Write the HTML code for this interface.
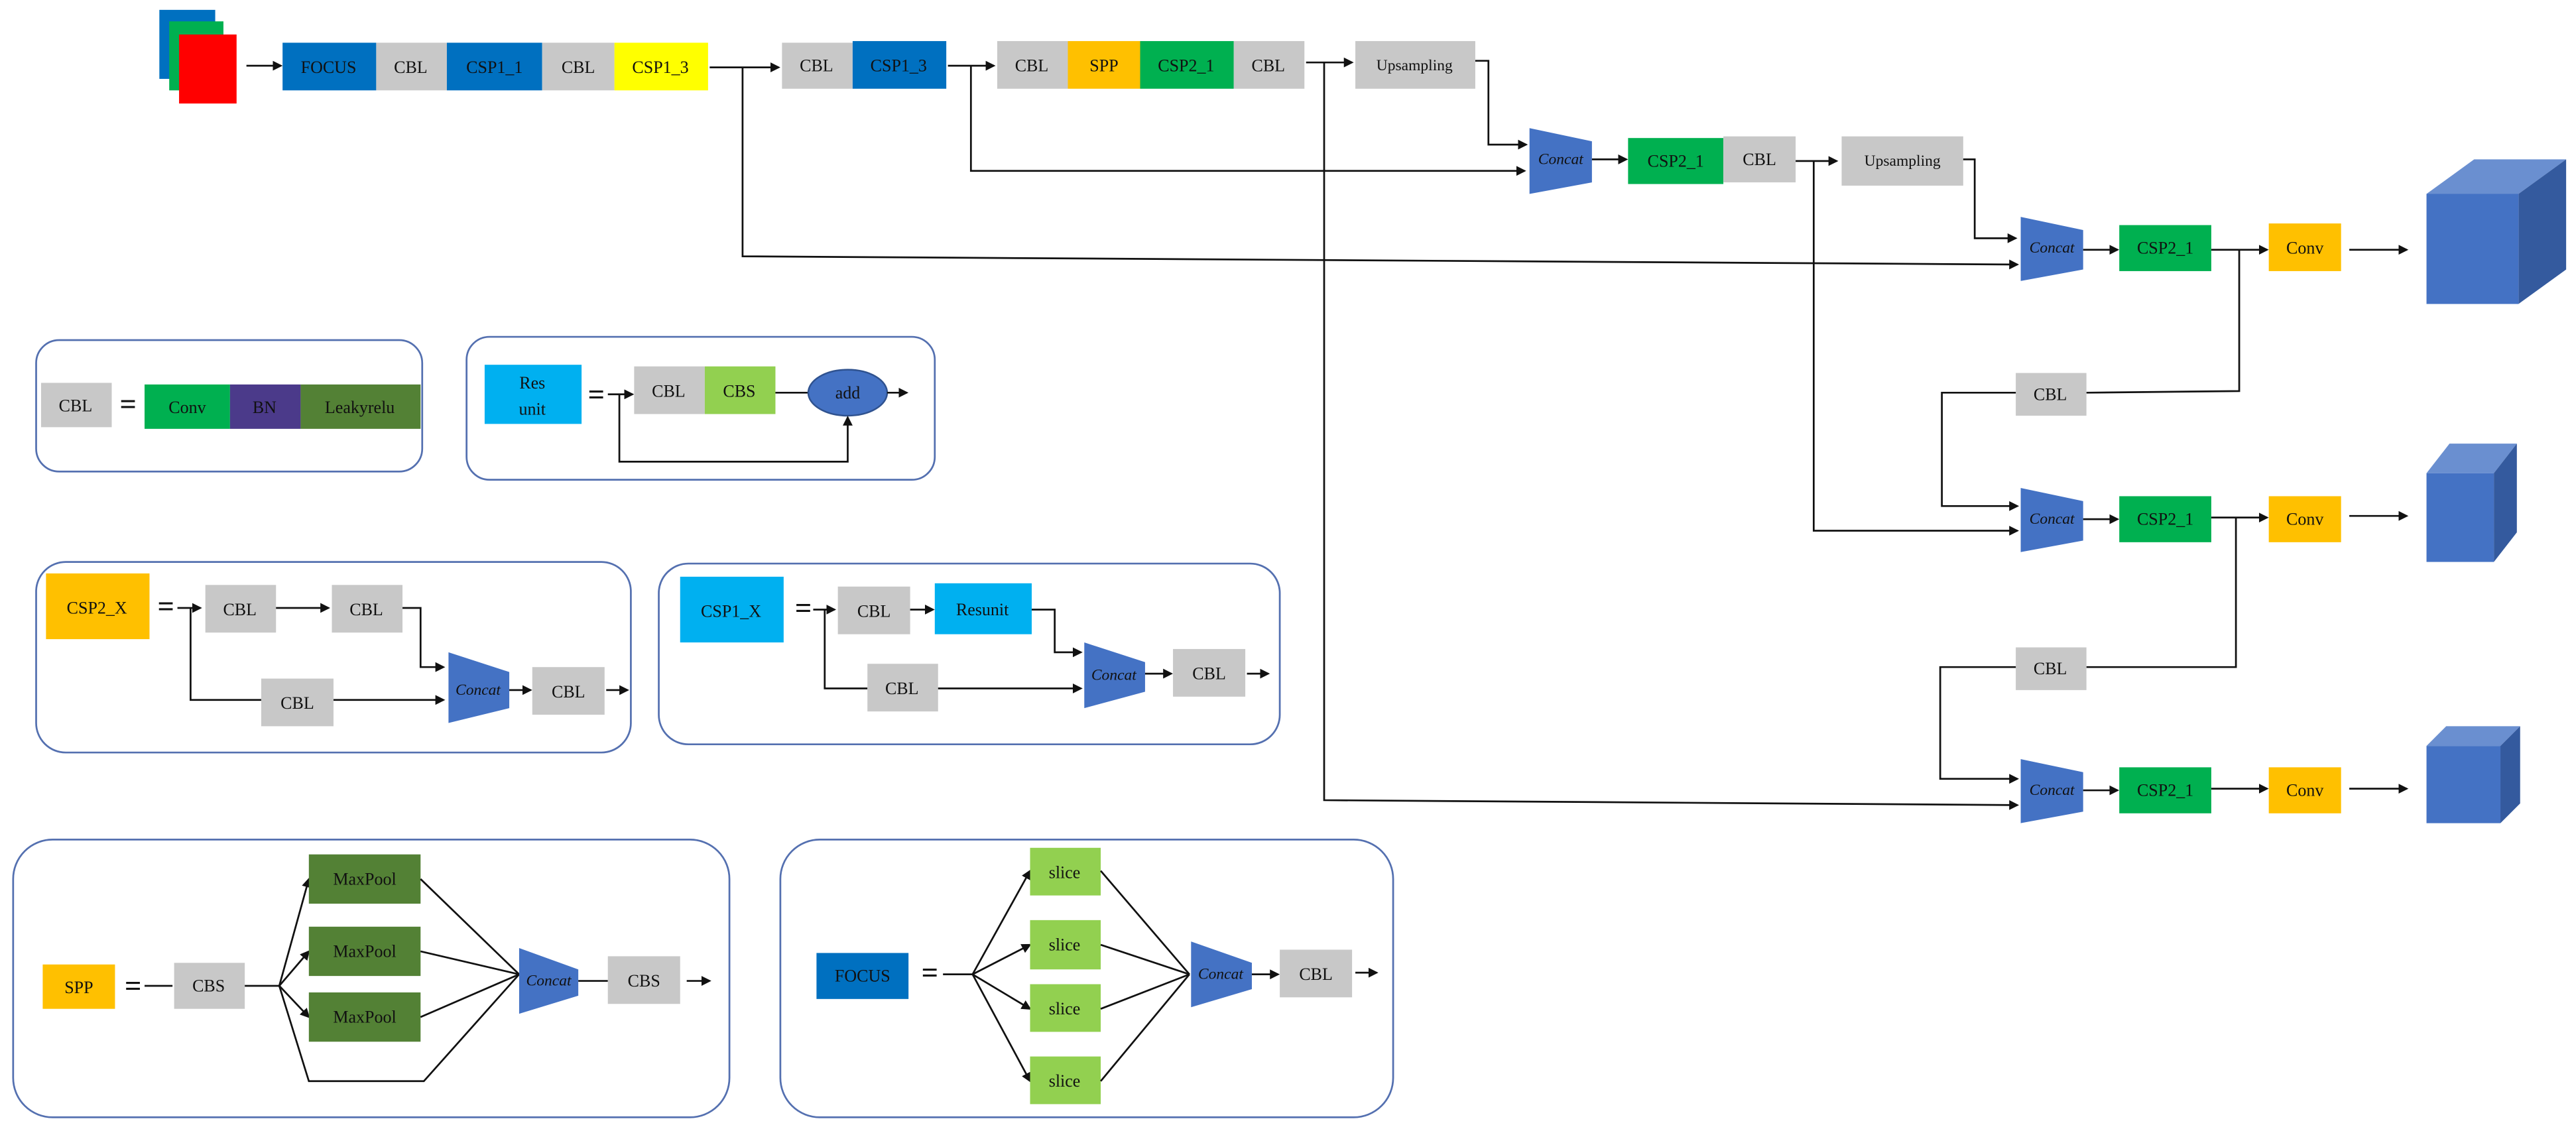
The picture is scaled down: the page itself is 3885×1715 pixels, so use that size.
<!DOCTYPE html>
<html><head><meta charset="utf-8"><style>
html,body{margin:0;padding:0;background:#fff}
svg{display:block}
text{font-family:"Liberation Serif",serif;font-size:10.5px;fill:#111;text-anchor:middle;dominant-baseline:central}
.it{font-style:italic;font-size:9.5px}
.ln{stroke:#111;stroke-width:1.1;fill:none}
.pn{fill:none;stroke:#5470B0;stroke-width:1.1}
</style></head><body>
<svg width="3885" height="1715" viewBox="0 0 1568 692" preserveAspectRatio="none" xmlns="http://www.w3.org/2000/svg">
<defs><marker id="a" markerWidth="6" markerHeight="6" refX="5" refY="3" orient="auto" markerUnits="userSpaceOnUse"><path d="M0,0 L6,3 L0,6 z" fill="#111"/></marker></defs>

<!-- input image -->
<rect x="97" y="6" width="34" height="42" fill="#0070C0"/>
<rect x="103" y="13" width="33" height="42" fill="#00B050"/>
<rect x="109" y="21" width="35" height="42" fill="#FF0000"/>
<line class="ln" x1="150" y1="40" x2="171" y2="40" marker-end="url(#a)"/>

<!-- top row -->
<rect x="172" y="26" width="57" height="29" fill="#0070C0"/><text x="200" y="41">FOCUS</text>
<rect x="229" y="26" width="43" height="29" fill="#C8C8C8"/><text x="250" y="41">CBL</text>
<rect x="272" y="26" width="58" height="29" fill="#0070C0"/><text x="301" y="41">CSP1_1</text>
<rect x="330" y="26" width="44" height="29" fill="#C8C8C8"/><text x="352" y="41">CBL</text>
<rect x="374" y="26" width="57" height="29" fill="#FFFF00"/><text x="402" y="41">CSP1_3</text>
<line class="ln" x1="432" y1="41" x2="474" y2="41" marker-end="url(#a)"/>
<polyline class="ln" points="452,41 452,156 1228,161" marker-end="url(#a)"/>
<rect x="476" y="26" width="43" height="28" fill="#C8C8C8"/><text x="497" y="40">CBL</text>
<rect x="519" y="25" width="57" height="29" fill="#0070C0"/><text x="547" y="40">CSP1_3</text>
<line class="ln" x1="577" y1="40" x2="605" y2="40" marker-end="url(#a)"/>
<polyline class="ln" points="591,40 591,104 928,104" marker-end="url(#a)"/>
<rect x="607" y="25" width="43" height="29" fill="#C8C8C8"/><text x="628" y="40">CBL</text>
<rect x="650" y="25" width="44" height="29" fill="#FFC000"/><text x="672" y="40">SPP</text>
<rect x="694" y="25" width="57" height="29" fill="#00B050"/><text x="722" y="40">CSP2_1</text>
<rect x="751" y="25" width="43" height="29" fill="#C8C8C8"/><text x="772" y="40">CBL</text>
<line class="ln" x1="795" y1="38" x2="823" y2="38" marker-end="url(#a)"/>
<polyline class="ln" points="806,38 806,487 1228,490" marker-end="url(#a)"/>
<rect x="825" y="25" width="73" height="29" fill="#C8C8C8"/><text x="861" y="40" style="font-size:9.5px">Upsampling</text>
<polyline class="ln" points="898,37 906,37 906,88 929,88" marker-end="url(#a)"/>

<!-- concat1 -->
<polygon points="931,78 969,86 969,111 931,118" fill="#4472C4"/><text class="it" x="950" y="97">Concat</text>
<line class="ln" x1="969" y1="97" x2="990" y2="97" marker-end="url(#a)"/>
<rect x="991" y="84" width="58" height="28" fill="#00B050"/><text x="1020" y="98">CSP2_1</text>
<rect x="1049" y="83" width="44" height="28" fill="#C8C8C8"/><text x="1071" y="97">CBL</text>
<line class="ln" x1="1093" y1="98" x2="1118" y2="98" marker-end="url(#a)"/>
<polyline class="ln" points="1104,98 1104,323 1228,323" marker-end="url(#a)"/>
<rect x="1121" y="83" width="74" height="30" fill="#C8C8C8"/><text x="1158" y="98" style="font-size:9.5px">Upsampling</text>
<polyline class="ln" points="1195,97 1202,97 1202,145 1227,145" marker-end="url(#a)"/>

<!-- output rows -->
<g id="r1">
<polygon points="1230,132 1268,140 1268,164 1230,171" fill="#4472C4"/><text class="it" x="1249" y="151">Concat</text>
<line class="ln" x1="1268" y1="152" x2="1289" y2="152" marker-end="url(#a)"/>
<rect x="1290" y="137" width="56" height="28" fill="#00B050"/><text x="1318" y="151">CSP2_1</text>
<line class="ln" x1="1346" y1="152" x2="1380" y2="152" marker-end="url(#a)"/>
<rect x="1381" y="136" width="44" height="29" fill="#FFC000"/><text x="1403" y="151">Conv</text>
<line class="ln" x1="1430" y1="152" x2="1465" y2="152" marker-end="url(#a)"/>
</g>
<polyline class="ln" points="1363,152 1363,238 1270,239"/>
<rect x="1227" y="227" width="43" height="26" fill="#C8C8C8"/><text x="1248" y="240">CBL</text>
<polyline class="ln" points="1227,239 1182,239 1182,308 1228,308" marker-end="url(#a)"/>

<polygon points="1230,297 1268,305 1268,329 1230,336" fill="#4472C4"/><text class="it" x="1249" y="316">Concat</text>
<line class="ln" x1="1268" y1="316" x2="1289" y2="316" marker-end="url(#a)"/>
<rect x="1290" y="302" width="56" height="28" fill="#00B050"/><text x="1318" y="316">CSP2_1</text>
<line class="ln" x1="1346" y1="315" x2="1380" y2="315" marker-end="url(#a)"/>
<rect x="1381" y="302" width="44" height="28" fill="#FFC000"/><text x="1403" y="316">Conv</text>
<line class="ln" x1="1430" y1="314" x2="1465" y2="314" marker-end="url(#a)"/>
<polyline class="ln" points="1361,315 1361,406 1270,406"/>
<rect x="1227" y="394" width="43" height="26" fill="#C8C8C8"/><text x="1248" y="407">CBL</text>
<polyline class="ln" points="1227,406 1181,406 1181,474 1228,474" marker-end="url(#a)"/>

<polygon points="1230,462 1268,470 1268,494 1230,501" fill="#4472C4"/><text class="it" x="1249" y="481">Concat</text>
<line class="ln" x1="1268" y1="481" x2="1289" y2="481" marker-end="url(#a)"/>
<rect x="1290" y="467" width="56" height="28" fill="#00B050"/><text x="1318" y="481">CSP2_1</text>
<line class="ln" x1="1346" y1="480" x2="1380" y2="480" marker-end="url(#a)"/>
<rect x="1381" y="467" width="44" height="28" fill="#FFC000"/><text x="1403" y="481">Conv</text>
<line class="ln" x1="1430" y1="480" x2="1465" y2="480" marker-end="url(#a)"/>

<!-- cubes -->
<polygon points="1477,118 1506,97 1562,97 1533,118" fill="#6A8FD0"/>
<polygon points="1533,118 1562,97 1562,164 1533,185" fill="#345A9E"/>
<rect x="1477" y="118" width="56" height="67" fill="#4472C4"/>
<polygon points="1477,288 1491,270 1532,270 1518,288" fill="#6A8FD0"/>
<polygon points="1518,288 1532,270 1532,324 1518,342" fill="#345A9E"/>
<rect x="1477" y="288" width="41" height="54" fill="#4472C4"/>
<polygon points="1477,454 1489,442 1534,442 1522,454" fill="#6A8FD0"/>
<polygon points="1522,454 1534,442 1534,489 1522,501" fill="#345A9E"/>
<rect x="1477" y="454" width="45" height="47" fill="#4472C4"/>

<!-- Panel 1 CBL -->
<rect class="pn" x="22" y="207" width="235" height="80" rx="14"/>
<rect x="25" y="233" width="43" height="27" fill="#C8C8C8"/><text x="46" y="247">CBL</text>
<text x="78" y="246" style="font-size:18px;font-weight:bold">=</text>
<rect x="88" y="234" width="52" height="27" fill="#00B050"/><text x="114" y="248">Conv</text>
<rect x="140" y="234" width="43" height="27" fill="#4B3A8A"/><text x="161" y="248">BN</text>
<rect x="183" y="234" width="73" height="27" fill="#538135"/><text x="219" y="248">Leakyrelu</text>

<!-- Panel 2 Res unit -->
<rect class="pn" x="284" y="205" width="285" height="87" rx="14"/>
<rect x="295" y="222" width="59" height="36" fill="#00B0F0"/><text x="324" y="233">Res</text><text x="324" y="249">unit</text>
<text x="363" y="240" style="font-size:18px;font-weight:bold">=</text>
<line class="ln" x1="370" y1="240" x2="385" y2="240" marker-end="url(#a)"/>
<rect x="386" y="223" width="43" height="29" fill="#C8C8C8"/><text x="407" y="238">CBL</text>
<rect x="429" y="223" width="43" height="29" fill="#92D050"/><text x="450" y="238">CBS</text>
<line class="ln" x1="472" y1="239" x2="492" y2="239"/>
<ellipse cx="516" cy="239" rx="24" ry="14" fill="#4472C4" stroke="#2F528F"/><text x="516" y="239">add</text>
<line class="ln" x1="540" y1="239" x2="552" y2="239" marker-end="url(#a)"/>
<polyline class="ln" points="377,240 377,281 516,281 516,254" marker-end="url(#a)"/>

<!-- Panel 3 CSP2_X -->
<rect class="pn" x="22" y="342" width="362" height="116" rx="18"/>
<rect x="28" y="349" width="63" height="40" fill="#FFC000"/><text x="59" y="370">CSP2_X</text>
<text x="101" y="369" style="font-size:18px;font-weight:bold">=</text>
<line class="ln" x1="108" y1="370" x2="122" y2="370" marker-end="url(#a)"/>
<rect x="125" y="356" width="43" height="29" fill="#C8C8C8"/><text x="146" y="371">CBL</text>
<line class="ln" x1="168" y1="370" x2="200" y2="370" marker-end="url(#a)"/>
<rect x="202" y="356" width="43" height="29" fill="#C8C8C8"/><text x="223" y="371">CBL</text>
<polyline class="ln" points="245,370 256,370 256,406 270,406" marker-end="url(#a)"/>
<polyline class="ln" points="116,370 116,426 159,426"/>
<rect x="159" y="413" width="44" height="29" fill="#C8C8C8"/><text x="181" y="428">CBL</text>
<line class="ln" x1="203" y1="426" x2="270" y2="426" marker-end="url(#a)"/>
<polygon points="273,397 310,409 310,431 273,440" fill="#4472C4"/><text class="it" x="291" y="420">Concat</text>
<line class="ln" x1="310" y1="420" x2="323" y2="420" marker-end="url(#a)"/>
<rect x="324" y="406" width="44" height="29" fill="#C8C8C8"/><text x="346" y="421">CBL</text>
<line class="ln" x1="369" y1="420" x2="382" y2="420" marker-end="url(#a)"/>

<!-- Panel 4 CSP1_X -->
<rect class="pn" x="401" y="343" width="378" height="110" rx="18"/>
<rect x="414" y="351" width="63" height="40" fill="#00B0F0"/><text x="445" y="372">CSP1_X</text>
<text x="489" y="370" style="font-size:18px;font-weight:bold">=</text>
<line class="ln" x1="495" y1="371" x2="508" y2="371" marker-end="url(#a)"/>
<rect x="510" y="357" width="44" height="29" fill="#C8C8C8"/><text x="532" y="372">CBL</text>
<line class="ln" x1="554" y1="371" x2="568" y2="371" marker-end="url(#a)"/>
<rect x="569" y="355" width="59" height="31" fill="#00B0F0"/><text x="598" y="371">Resunit</text>
<polyline class="ln" points="628,371 642,371 642,397 658,397" marker-end="url(#a)"/>
<polyline class="ln" points="502,371 502,419 528,419"/>
<rect x="528" y="404" width="43" height="29" fill="#C8C8C8"/><text x="549" y="419">CBL</text>
<line class="ln" x1="571" y1="419" x2="658" y2="419" marker-end="url(#a)"/>
<polygon points="660,391 697,403 697,421 660,431" fill="#4472C4"/><text class="it" x="678" y="411">Concat</text>
<line class="ln" x1="697" y1="410" x2="713" y2="410" marker-end="url(#a)"/>
<rect x="714" y="395" width="44" height="29" fill="#C8C8C8"/><text x="736" y="410">CBL</text>
<line class="ln" x1="759" y1="410" x2="772" y2="410" marker-end="url(#a)"/>

<!-- Panel 5 SPP -->
<rect class="pn" x="8" y="511" width="436" height="169" rx="24"/>
<rect x="26" y="587" width="44" height="27" fill="#FFC000"/><text x="48" y="601">SPP</text>
<text x="81" y="600" style="font-size:18px;font-weight:bold">=</text>
<line class="ln" x1="88" y1="600" x2="105" y2="600"/>
<rect x="106" y="586" width="43" height="28" fill="#C8C8C8"/><text x="127" y="600">CBS</text>
<line class="ln" x1="149" y1="600" x2="170" y2="600"/>
<line class="ln" x1="170" y1="600" x2="188" y2="535" marker-end="url(#a)"/>
<line class="ln" x1="170" y1="600" x2="188" y2="579" marker-end="url(#a)"/>
<line class="ln" x1="170" y1="600" x2="188" y2="619" marker-end="url(#a)"/>
<polyline class="ln" points="170,600 188,658 258,658 316,593"/>
<rect x="188" y="520" width="68" height="30" fill="#538135"/><text x="222" y="535">MaxPool</text>
<rect x="188" y="564" width="68" height="30" fill="#538135"/><text x="222" y="579">MaxPool</text>
<rect x="188" y="604" width="68" height="30" fill="#538135"/><text x="222" y="619">MaxPool</text>
<line class="ln" x1="256" y1="535" x2="316" y2="593"/>
<line class="ln" x1="256" y1="579" x2="316" y2="593"/>
<line class="ln" x1="256" y1="619" x2="316" y2="593"/>
<polygon points="316,577 352,590 352,606 316,617" fill="#4472C4"/><text class="it" x="334" y="597">Concat</text>
<line class="ln" x1="352" y1="597" x2="370" y2="597"/>
<rect x="370" y="582" width="44" height="29" fill="#C8C8C8"/><text x="392" y="597">CBS</text>
<line class="ln" x1="418" y1="597" x2="432" y2="597" marker-end="url(#a)"/>

<!-- Panel 6 FOCUS -->
<rect class="pn" x="475" y="511" width="373" height="169" rx="24"/>
<rect x="497" y="580" width="56" height="28" fill="#0070C0"/><text x="525" y="594">FOCUS</text>
<text x="566" y="592" style="font-size:18px;font-weight:bold">=</text>
<line class="ln" x1="574" y1="593" x2="592" y2="593"/>
<line class="ln" x1="592" y1="593" x2="627" y2="530" marker-end="url(#a)"/>
<line class="ln" x1="592" y1="593" x2="627" y2="575" marker-end="url(#a)"/>
<line class="ln" x1="592" y1="593" x2="627" y2="614" marker-end="url(#a)"/>
<line class="ln" x1="592" y1="593" x2="627" y2="658" marker-end="url(#a)"/>
<rect x="627" y="516" width="43" height="29" fill="#92D050"/><text x="648" y="531">slice</text>
<rect x="627" y="560" width="43" height="30" fill="#92D050"/><text x="648" y="575">slice</text>
<rect x="627" y="599" width="43" height="29" fill="#92D050"/><text x="648" y="614">slice</text>
<rect x="627" y="643" width="43" height="29" fill="#92D050"/><text x="648" y="658">slice</text>
<line class="ln" x1="670" y1="530" x2="724" y2="593"/>
<line class="ln" x1="670" y1="575" x2="724" y2="593"/>
<line class="ln" x1="670" y1="614" x2="724" y2="593"/>
<line class="ln" x1="670" y1="658" x2="724" y2="593"/>
<polygon points="725,573 762,586 762,602 725,613" fill="#4472C4"/><text class="it" x="743" y="593">Concat</text>
<line class="ln" x1="762" y1="593" x2="778" y2="593" marker-end="url(#a)"/>
<rect x="779" y="578" width="44" height="29" fill="#C8C8C8"/><text x="801" y="593">CBL</text>
<line class="ln" x1="825" y1="592" x2="838" y2="592" marker-end="url(#a)"/>
</svg>
</body></html>
